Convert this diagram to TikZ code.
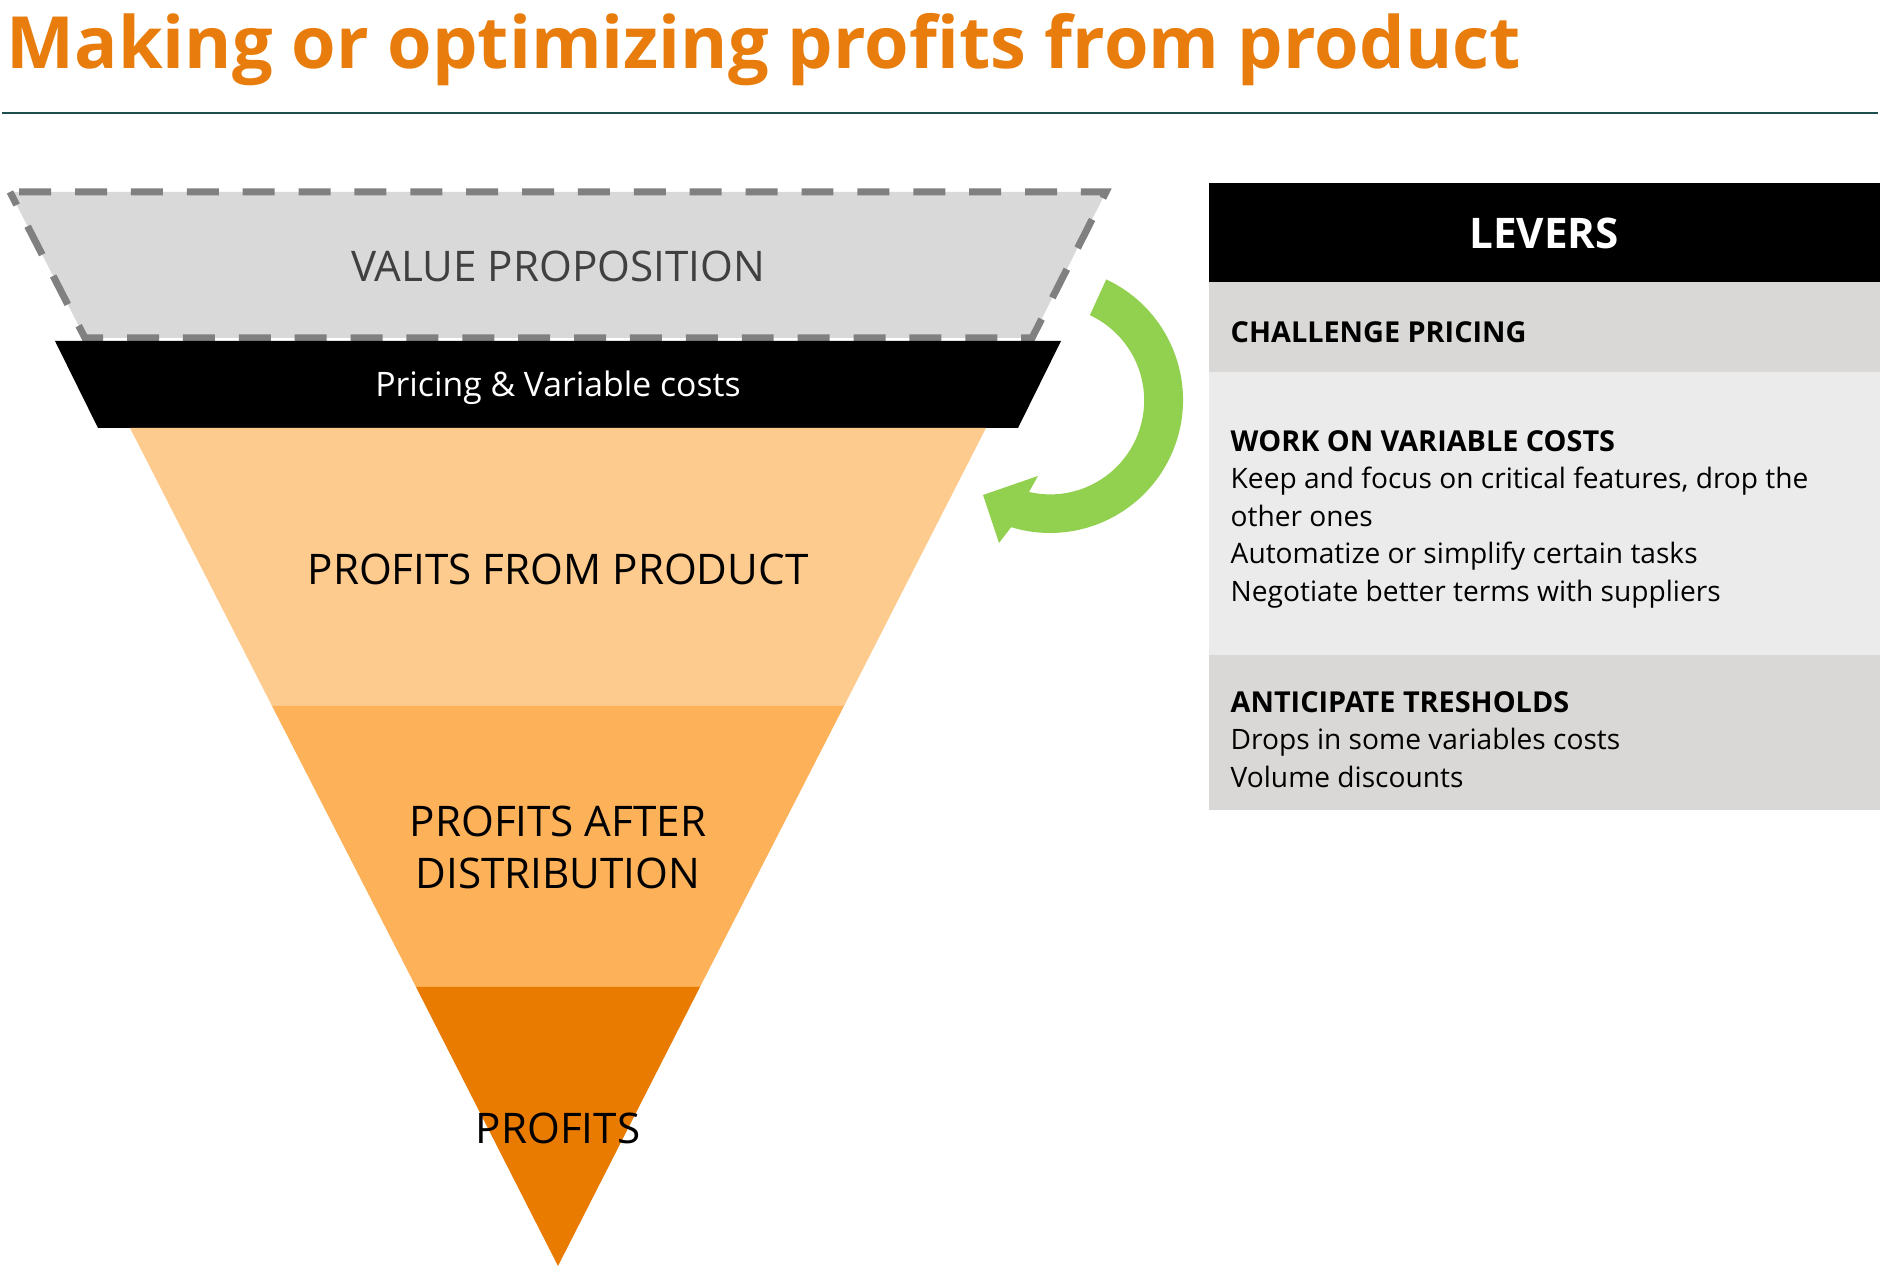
\documentclass[tikz,border=0pt]{standalone}
\usepackage{fontspec}
\setmainfont{Open Sans}
\usetikzlibrary{positioning}
\definecolor{titleorange}{HTML}{E87D0D}
\definecolor{ruleteal}{HTML}{1F4E4E}
\definecolor{vpgray}{HTML}{D9D9D9}
\definecolor{dashgray}{HTML}{808080}
\definecolor{lightorange}{HTML}{FECB8F}
\definecolor{midorange}{HTML}{FDB159}
\definecolor{darkorange}{HTML}{E87B00}
\definecolor{arrowgreen}{HTML}{92D050}
\definecolor{bandgray}{HTML}{D9D8D6}
\definecolor{bandlight}{HTML}{EBEBEB}
\definecolor{textgray}{HTML}{404040}

\begin{document}
\begin{tikzpicture}[lbl/.style={anchor=base, inner sep=0pt, font=\fontsize{12}{14}\selectfont},
	lever/.style={anchor=base west, inner sep=0pt, font=\bfseries\fontsize{8.2}{10.7}\selectfont},
	body/.style={anchor=base west, inner sep=0pt, font=\fontsize{8}{10.7}\selectfont}]

	\useasboundingbox (0,0) rectangle (18.8,12.8);

	% title
	\node (T) [anchor=base west, inner sep=0pt, text=titleorange, font=\bfseries\fontsize{20.5}{24}\selectfont] at (0.06,12.11) {Making or optimizing profits from product};
	\draw [ruleteal, line width=0.57pt] (0.02,11.67) to (18.78,11.67);

	% funnel
	\fill [vpgray] (0.10,10.88) -- (11.06,10.88) -- (10.32,9.42) -- (0.85,9.42) -- cycle;
	\draw [dashgray, line width=2pt, dash pattern=on 9.1pt off 6.8pt, dash phase=13.3pt] (0.10,10.88) -- (11.06,10.88) -- (10.32,9.42) -- (0.85,9.42) -- cycle;
	\fill [black] (0.55,9.39) -- (10.61,9.39) -- (10.18,8.52) -- (0.98,8.52) -- cycle;
	\fill [lightorange] (1.30,8.52) -- (9.86,8.52) -- (8.44,5.74) -- (2.72,5.74) -- cycle;
	\fill [midorange] (2.72,5.74) -- (8.44,5.74) -- (7.00,2.93) -- (4.16,2.93) -- cycle;
	\fill [darkorange] (4.16,2.93) -- (7.00,2.93) -- (5.58,0.14) -- cycle;

	\node (vp) [lbl, text=textgray] at (5.58,9.98) {VALUE PROPOSITION};
	\node (pv) [lbl, text=white, font=\fontsize{9.6}{11}\selectfont] at (5.58,8.83) {Pricing \& Variable costs};
	\node (pp) [lbl] at (5.58,6.95) {PROFITS FROM PRODUCT};
	\node (pa) [lbl] at (5.58,4.43) {PROFITS AFTER};
	\node (pd) [lbl] at (5.58,3.91) {DISTRIBUTION};
	\node (pr) [lbl] at (5.58,1.36) {PROFITS};

	% green arrow
	\fill [arrowgreen] (10.50,8.80) ++(65:1.33) arc [start angle=65, end angle=-107, radius=1.33] -- (9.99,7.37) -- (9.83,7.85) -- (10.38,8.04) -- (10.29,7.88) arc [start angle=-103, end angle=65, radius=0.94] -- cycle;

	% levers
	\fill [black] (12.09,9.98) rectangle (18.80,10.97);
	\fill [bandgray] (12.09,9.08) rectangle (18.80,9.98);
	\fill [bandlight] (12.09,6.25) rectangle (18.80,9.08);
	\fill [bandgray] (12.09,4.70) rectangle (18.80,6.25);

	\node (lv) [anchor=base, inner sep=0pt, text=white, font=\bfseries\fontsize{12}{14}\selectfont] at (15.44,10.31) {LEVERS};
	\node (c1) [lever] at (12.30,9.37) {CHALLENGE PRICING};
	\node (w1) [lever] at (12.30,8.28) {WORK ON VARIABLE COSTS};
	\node (w2) [body] at (12.30,7.91) {Keep and focus on critical features, drop the};
	\node (w3) [body] at (12.30,7.535) {other ones};
	\node (w4) [body] at (12.30,7.16) {Automatize or simplify certain tasks};
	\node (w5) [body] at (12.30,6.78) {Negotiate better terms with suppliers};
	\node (a1) [lever] at (12.30,5.67) {ANTICIPATE TRESHOLDS};
	\node (a2) [body] at (12.30,5.30) {Drops in some variables costs};
	\node (a3) [body] at (12.30,4.92) {Volume discounts};

\end{tikzpicture}
\end{document}
